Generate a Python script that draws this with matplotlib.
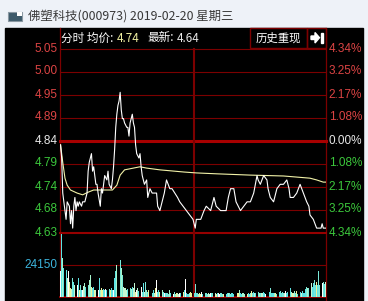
import matplotlib
matplotlib.use('Agg')
import matplotlib.pyplot as plt
from matplotlib.patches import Rectangle, Polygon
from matplotlib import transforms
import numpy as np

plt.close('all')

title = '佛塑科技(000973) 2019-02-20 星期三'
avg_now = '4.74'
last_now = '4.64'
pre_close = 4.84
price_top = 5.05
price_bot = 4.63
vol_top = 48300

left_labels = ['5.05', '5.00', '4.95', '4.89', '4.84', '4.79', '4.74', '4.68', '4.63']
right_labels = ['4.34%', '3.25%', '2.17%', '1.08%', '0.00%', '1.08%', '2.17%', '3.25%', '4.34%']
vol_label = '24150'

# minute index (0..240) and price
price_min = [0, 1, 2, 5, 6, 8, 9, 10, 11, 12,
             13, 14, 15, 16, 17, 19, 20, 22, 24, 25,
             26, 28, 29, 30, 31, 32, 33, 34, 36, 37,
             38, 40, 42, 43, 44, 46, 47, 48, 49, 50,
             51, 52, 53, 54, 55, 56, 57, 58, 60, 61,
             62, 63, 65, 66, 67, 68, 69, 71, 72, 73,
             74, 76, 78, 79, 81, 83, 87, 88, 90, 92,
             94, 96, 99, 101, 106, 108, 111, 114, 117, 120,
             121, 122, 123, 127, 130, 132, 136, 139, 141, 145,
             148, 150, 152, 154, 157, 159, 163, 166, 169, 172,
             175, 178, 179, 181, 184, 187, 188, 190, 193, 196,
             199, 202, 205, 207, 208, 211, 214, 217, 220, 223,
             225, 226, 229, 232, 234, 236, 237, 238, 240]
price = [4.83, 4.80, 4.72, 4.66, 4.70, 4.69, 4.65, 4.68, 4.64, 4.69,
         4.71, 4.68, 4.70, 4.69, 4.70, 4.69, 4.70, 4.70, 4.72, 4.77,
         4.79, 4.81, 4.77, 4.78, 4.76, 4.74, 4.74, 4.72, 4.69, 4.73,
         4.72, 4.76, 4.75, 4.77, 4.74, 4.73, 4.75, 4.78, 4.82, 4.87,
         4.90, 4.92, 4.93, 4.95, 4.91, 4.89, 4.89, 4.88, 4.87, 4.87,
         4.85, 4.88, 4.90, 4.88, 4.87, 4.83, 4.81, 4.80, 4.81, 4.78,
         4.76, 4.74, 4.75, 4.71, 4.73, 4.72, 4.72, 4.69, 4.68, 4.70,
         4.72, 4.75, 4.73, 4.73, 4.71, 4.70, 4.69, 4.68, 4.67, 4.66,
         4.65, 4.64, 4.66, 4.66, 4.68, 4.69, 4.68, 4.71, 4.69, 4.68,
         4.68, 4.68, 4.71, 4.73, 4.73, 4.70, 4.68, 4.69, 4.70, 4.70,
         4.72, 4.76, 4.75, 4.74, 4.76, 4.75, 4.73, 4.71, 4.70, 4.73,
         4.74, 4.74, 4.75, 4.73, 4.71, 4.71, 4.72, 4.74, 4.72, 4.70,
         4.69, 4.67, 4.66, 4.64, 4.64, 4.64, 4.65, 4.64, 4.64]

avg_min = [0, 2, 4, 6, 9, 15, 20, 25, 30, 47, 51, 54, 58,
           66, 72, 78, 90, 112, 123, 141, 172, 202, 226, 232, 238, 240]
avg_price = [4.83, 4.79, 4.754, 4.738, 4.727, 4.72, 4.716, 4.722, 4.727,
             4.727, 4.738, 4.761, 4.773, 4.777, 4.78, 4.777, 4.773, 4.768,
             4.766, 4.764, 4.761, 4.759, 4.754, 4.75, 4.745, 4.745]

# volume per minute, morning 0..120 and afternoon 121..240
vol_am = [18900, 47500, 29200, 21500, 18900, 20200, 13800, 18900, 11300, 6100,
          5600, 13800, 11300, 8700, 12500, 8700, 13800, 4900, 8700, 4900,
          4900, 7800, 10000, 7400, 11300, 8700, 12500, 16400, 7400, 6100,
          7400, 4900, 5200, 6100, 4900, 13800, 4900, 6100, 4900, 6000,
          4900, 5400, 4900, 6100, 5400, 4900, 6100, 4900, 4900, 13800,
          18900, 24000, 26600, 29700, 27900, 21500, 16400, 7400, 6600, 6100,
          4900, 5400, 6100, 6600, 5400, 7400, 6100, 10000, 3600, 4900,
          6100, 4200, 4900, 7400, 3600, 10000, 3600, 11300, 4900, 3600,
          4900, 2300, 3000, 2300, 4900, 2300, 6100, 12500, 3600, 4900,
          3100, 2300, 5000, 3600, 2300, 2300, 2800, 2300, 1800, 4900,
          2600, 2300, 2000, 3100, 1800, 2300, 2400, 1800, 2300, 2300,
          3100, 3300, 4900, 13300, 2300, 1800, 2100, 2300, 3100, 2700,
          4900]
vol_pm = [2300, 9200, 2300, 2800, 1800, 2300, 2000, 3100, 1800, 2300,
          2800, 2300, 1800, 2300, 1800, 2300, 2600, 2800, 1800, 2800,
          2000, 2300, 2300, 1800, 2800, 2300, 2000, 1800, 2300, 1800,
          2600, 2300, 2300, 2000, 2800, 2300, 1800, 2300, 2300, 2800,
          2300, 4900, 2300, 1800, 2800, 2300, 2000, 2300, 1800, 2300,
          2000, 2800, 4100, 2300, 3600, 2300, 2300, 7400, 3600, 2300,
          2300, 2800, 2300, 3600, 2800, 2000, 3100, 2300, 3600, 6100,
          2300, 2800, 2300, 2300, 2800, 2000, 2000, 3600, 4300, 2300,
          3100, 2300, 2800, 4100, 2300, 3100, 2300, 6600, 3600, 2300,
          2300, 4300, 2800, 4300, 2000, 2800, 3600, 2300, 4100, 2800,
          2300, 5400, 7400, 6100, 6100, 8700, 10500, 7400, 10000, 12500,
          8700, 11300, 9000, 18900, 8700, 11300, 10000, 11300, 9500, 11300]

W, H = 368, 301
cjk = ['Noto Sans CJK SC', 'DejaVu Sans']
num_font = 'Liberation Sans'
grid_c = '#7c0000'
red_c = '#dc4444'
green_c = '#3cc83c'
white_c = '#e8e8e8'


def frame(x0, y0, x1, y1):
    return [x0 / W, 1 - y1 / H, (x1 - x0) / W, (y1 - y0) / H]


fig = plt.figure(figsize=(W / 100, H / 100), dpi=100)
fig.patch.set_facecolor('#eef2f8')

# background layer in pixel coordinates
bg = fig.add_axes([0, 0, 1, 1])
bg.set_xlim(0, W)
bg.set_ylim(H, 0)
bg.axis('off')
bg.add_patch(Rectangle((5, 28), 358, 273, color='black'))

# window icon + title
bg.add_patch(Rectangle((8, 12), 14, 9, facecolor='#3d5a6a', edgecolor='#8a98a2', lw=0.8))
bg.add_patch(Rectangle((17, 12), 5, 4, facecolor='white', edgecolor='none'))
bg.text(28, 16.5, title, fontsize=8.9, family=cjk, color='#3a3a3a', va='center', ha='left')

# header line
bg.text(61, 38, '分时 均价:', fontsize=8.4, family=cjk, color='white', va='center')
bg.text(117, 38, avg_now, fontsize=8.4, family=cjk, color='#eeeea0', va='center')
bg.text(147, 38, '最新:', fontsize=8.4, family=cjk, color='white', va='center')
bg.text(177, 38, last_now, fontsize=8.4, family=cjk, color=white_c, va='center')

bg.add_patch(Rectangle((250, 28), 57, 20, facecolor='none', edgecolor=grid_c, lw=1))
bg.add_patch(Rectangle((307, 28), 19, 20, facecolor='none', edgecolor=grid_c, lw=1))
bg.text(278.5, 38, '历史重现', fontsize=8.2, family=cjk, color='white', va='center', ha='center')
bg.add_patch(Polygon([(311, 36), (315, 36), (315, 32.5), (319.5, 37.7), (315, 43),
                      (315, 39.5), (311, 39.5)], closed=True, color='white'))
bg.add_patch(Rectangle((320.5, 32.5), 2, 10.5, color='white'))

# outer vertical borders
bg.plot([60, 60], [28, 297], color=grid_c, lw=0.9)
bg.plot([326, 326], [28, 301], color=grid_c, lw=0.9)

# price panel
ax = fig.add_axes(frame(60, 48.5, 326, 232.5))
ax.set_axis_off()
ax.set_xlim(-0.5, 240.5)
ax.set_ylim(price_bot, price_top)
levels = np.linspace(price_top, price_bot, len(left_labels))
for i, lv in enumerate(levels):
    if i == 4:
        ax.axhline(lv, color='#a80000', lw=2.2, clip_on=False, zorder=1)
    elif i == len(levels) - 1:
        ax.axhline(lv, color='#960000', lw=1.5, clip_on=False, zorder=1)
    else:
        ax.axhline(lv, color=grid_c, lw=0.8, clip_on=False, zorder=1)
ax.axvline(120.5, color=grid_c, lw=1.5, clip_on=False, zorder=1)

lt = transforms.blended_transform_factory(ax.transAxes, ax.transData)
for i, (lv, lab, rlab) in enumerate(zip(levels, left_labels, right_labels)):
    c = red_c if i < 4 else (white_c if i == 4 else green_c)
    ax.text(-0.008, lv, lab, transform=lt, ha='right', va='center',
            fontsize=8.5, family=num_font, color=c)
    ax.text(1.011, lv, rlab, transform=lt, ha='left', va='center',
            fontsize=8.5, family=num_font, color=c)

ax.plot(avg_min, avg_price, color='#f2f2a8', lw=0.8, zorder=3)
ax.plot(price_min, price, color='white', lw=0.8, zorder=4)

# volume panel
ax2 = fig.add_axes(frame(60, 232.5, 326, 296.5))
ax2.set_axis_off()
ax2.set_xlim(-0.5, 240.5)
ax2.set_ylim(0, vol_top)
ax2.axhline(vol_top / 2, color=grid_c, lw=0.8, clip_on=False, zorder=1)
ax2.axhline(0, color='#8c0000', lw=1.4, clip_on=False, zorder=1)
ax2.axvline(120.5, color=grid_c, lw=1.5, clip_on=False, zorder=1)

vols = vol_am + vol_pm
mins = np.arange(len(vols))
palette = ['#5ee4e4', '#a8f4cc', '#7ae8d8', '#eef29c', '#c6f6d2', '#5ee4e4', '#ffffff']
colors = [palette[(v // 700 + i) % len(palette)] for i, v in enumerate(vols)]
ax2.bar(mins, vols, width=0.8, color=colors, linewidth=0, zorder=2)
vt = transforms.blended_transform_factory(ax2.transAxes, ax2.transData)
ax2.text(-0.008, vol_top / 2, vol_label, transform=vt, ha='right', va='center',
         fontsize=8.5, family=num_font, color='#3cb4dc')

fig.savefig('out.png', dpi=100, facecolor=fig.get_facecolor())
